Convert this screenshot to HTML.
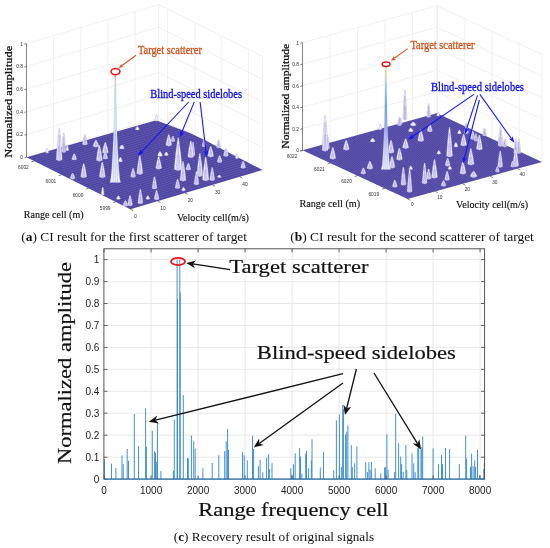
<!DOCTYPE html>
<html><head><meta charset="utf-8"><title>Figure</title>
<style>html,body{margin:0;padding:0;background:#fff}svg{display:block}</style>
</head><body>
<svg width="550" height="548" viewBox="0 0 550 548">
<defs>
<pattern id="fla" width="2.2" height="2.2" patternUnits="userSpaceOnUse" patternTransform="rotate(-16.7)"><rect width="2.2" height="2.2" fill="#4e46a0"/><rect width="2.2" height="0.5" fill="#665eb6"/></pattern>
<pattern id="flb" width="1.6" height="1.6" patternUnits="userSpaceOnUse" patternTransform="rotate(-40)"><rect width="1.6" height="1.6" fill="#4e46a0"/><rect width="1.6" height="0.45" fill="#6a62ba"/></pattern>
<linearGradient id="pk" x1="0" y1="0" x2="0" y2="1"><stop offset="0" stop-color="#f0a050"/><stop offset="0.07" stop-color="#f4d0a0"/><stop offset="0.14" stop-color="#c4e0f4"/><stop offset="0.5" stop-color="#d8e4f8"/><stop offset="1" stop-color="#f2f1fb"/></linearGradient>
<linearGradient id="pkb" x1="0" y1="0" x2="0" y2="1"><stop offset="0" stop-color="#f0e840"/><stop offset="0.09" stop-color="#d8e050"/><stop offset="0.16" stop-color="#70d0d8"/><stop offset="0.4" stop-color="#6aa8e8"/><stop offset="0.62" stop-color="#a8b8ec"/><stop offset="0.8" stop-color="#dcdcf6"/><stop offset="1" stop-color="#f2f0fb"/></linearGradient>
</defs>
<rect width="550" height="548" fill="#fff"/>

<path d="M26.5,157.2 L158.6,118.0 L262.5,170.0 M26.5,134.5 L158.6,95.3 L262.5,147.3 M26.5,111.8 L158.6,72.6 L262.5,124.6 M26.5,89.1 L158.6,49.9 L262.5,101.9 M26.5,66.4 L158.6,27.2 L262.5,79.2 M26.5,43.7 L158.6,4.5 L262.5,56.5 M53.6,149.2 V35.7 M80.7,141.1 V27.6 M107.8,133.1 V19.6 M134.9,125.0 V11.5 M167.5,122.5 V9.0 M194.9,136.1 V22.6 M221.2,149.3 V35.8 M248.5,163.0 V49.5 M158.6,118.0 V4.5 M262.5,170.0 V56.5" stroke="#ebebeb" stroke-width="0.7" fill="none"/>
<line x1="26.5" y1="157.2" x2="26.5" y2="43.7" stroke="#333" stroke-width="0.6"/>
<line x1="24.3" y1="157.8" x2="26.5" y2="157.2" stroke="#333" stroke-width="0.6"/>
<text x="23.1" y="159.1" font-size="4.9" font-family='"Liberation Sans", sans-serif' fill="#333" text-anchor="end" >0</text>
<line x1="24.3" y1="135.1" x2="26.5" y2="134.5" stroke="#333" stroke-width="0.6"/>
<text x="23.1" y="136.4" font-size="4.9" font-family='"Liberation Sans", sans-serif' fill="#333" text-anchor="end" >0.2</text>
<line x1="24.3" y1="112.4" x2="26.5" y2="111.8" stroke="#333" stroke-width="0.6"/>
<text x="23.1" y="113.7" font-size="4.9" font-family='"Liberation Sans", sans-serif' fill="#333" text-anchor="end" >0.4</text>
<line x1="24.3" y1="89.7" x2="26.5" y2="89.1" stroke="#333" stroke-width="0.6"/>
<text x="23.1" y="91.0" font-size="4.9" font-family='"Liberation Sans", sans-serif' fill="#333" text-anchor="end" >0.6</text>
<line x1="24.3" y1="67.0" x2="26.5" y2="66.4" stroke="#333" stroke-width="0.6"/>
<text x="23.1" y="68.3" font-size="4.9" font-family='"Liberation Sans", sans-serif' fill="#333" text-anchor="end" >0.8</text>
<line x1="24.3" y1="44.3" x2="26.5" y2="43.7" stroke="#333" stroke-width="0.6"/>
<text x="23.1" y="45.6" font-size="4.9" font-family='"Liberation Sans", sans-serif' fill="#333" text-anchor="end" >1</text>
<polygon points="26.5,157.2 130.4,209.2 262.5,170.0 205,140.3 190,132.9 156.2,120.2" fill="url(#fla)"/>
<line x1="34.1" y1="161.0" x2="31.2" y2="161.8" stroke="#333" stroke-width="0.6"/>
<text x="23.4" y="169.3" font-size="4.8" font-family='"Liberation Sans", sans-serif' fill="#333" text-anchor="middle" >6002</text>
<line x1="61.6" y1="174.8" x2="58.7" y2="175.6" stroke="#333" stroke-width="0.6"/>
<text x="50.9" y="183.1" font-size="4.8" font-family='"Liberation Sans", sans-serif' fill="#333" text-anchor="middle" >6001</text>
<line x1="88.7" y1="188.3" x2="85.9" y2="189.2" stroke="#333" stroke-width="0.6"/>
<text x="78.0" y="196.6" font-size="4.8" font-family='"Liberation Sans", sans-serif' fill="#333" text-anchor="middle" >6000</text>
<line x1="115.9" y1="201.9" x2="113.0" y2="202.8" stroke="#333" stroke-width="0.6"/>
<text x="105.2" y="210.2" font-size="4.8" font-family='"Liberation Sans", sans-serif' fill="#333" text-anchor="middle" >5999</text>
<line x1="130.4" y1="209.2" x2="133.1" y2="210.5" stroke="#333" stroke-width="0.6"/>
<text x="135.7" y="217.9" font-size="4.8" font-family='"Liberation Sans", sans-serif' fill="#333" text-anchor="middle" >0</text>
<line x1="157.7" y1="201.1" x2="160.4" y2="202.4" stroke="#333" stroke-width="0.6"/>
<text x="163.0" y="209.8" font-size="4.8" font-family='"Liberation Sans", sans-serif' fill="#333" text-anchor="middle" >10</text>
<line x1="185.0" y1="193.0" x2="187.7" y2="194.3" stroke="#333" stroke-width="0.6"/>
<text x="190.3" y="201.7" font-size="4.8" font-family='"Liberation Sans", sans-serif' fill="#333" text-anchor="middle" >20</text>
<line x1="212.3" y1="184.9" x2="215.0" y2="186.2" stroke="#333" stroke-width="0.6"/>
<text x="217.6" y="193.6" font-size="4.8" font-family='"Liberation Sans", sans-serif' fill="#333" text-anchor="middle" >30</text>
<line x1="239.6" y1="176.8" x2="242.3" y2="178.1" stroke="#333" stroke-width="0.6"/>
<text x="244.9" y="185.5" font-size="4.8" font-family='"Liberation Sans", sans-serif' fill="#333" text-anchor="middle" >40</text>
<path d="M155.1,120.6 Q155.5,117.6 156.2,114.6 L157.0,114.6 Q157.7,117.6 158.1,120.6 Q156.6,121.6 155.1,120.6 Z" fill="#f1effb" stroke="#a8a2de" stroke-width="0.4"/>
<path d="M135.3,129.4 Q135.9,127.9 136.9,126.4 L137.8,126.4 Q138.7,127.9 139.3,129.4 Q137.3,130.8 135.3,129.4 Z" fill="#f1effb" stroke="#a8a2de" stroke-width="0.4"/>
<path d="M171.0,141.0 Q171.6,138.5 172.6,136.0 L173.4,136.0 Q174.4,138.5 175.0,141.0 Q173.0,142.4 171.0,141.0 Z" fill="#f1effb" stroke="#a8a2de" stroke-width="0.4"/>
<path d="M172.00,141.4 L172.50,138.8 M172.66,141.4 L172.94,137.0 M173.34,141.4 L173.06,137.0 M174.00,141.4 L173.50,138.8" stroke="#8d87cf" stroke-width="0.35" fill="none"/>
<path d="M82.4,144.2 Q83.1,139.4 84.5,134.6 L85.4,134.6 Q86.7,139.4 87.4,144.2 Q84.9,145.9 82.4,144.2 Z" fill="#f1effb" stroke="#a8a2de" stroke-width="0.4"/>
<path d="M83.65,144.7 L84.28,139.9 M84.48,144.7 L84.82,136.5 M85.33,144.7 L84.98,136.5 M86.15,144.7 L85.52,139.9" stroke="#8d87cf" stroke-width="0.35" fill="none"/>
<path d="M165.8,145.1 Q166.6,139.8 168.4,134.6 L169.2,134.6 Q171.0,139.8 171.8,145.1 Q168.8,147.2 165.8,145.1 Z" fill="#f1effb" stroke="#a8a2de" stroke-width="0.4"/>
<path d="M167.30,145.7 L168.06,140.4 M168.29,145.7 L168.71,136.7 M169.31,145.7 L168.89,136.7 M170.30,145.7 L169.54,140.4" stroke="#8d87cf" stroke-width="0.35" fill="none"/>
<path d="M92.9,146.2 Q93.7,143.2 95.5,140.2 L96.4,140.2 Q98.1,143.2 98.9,146.2 Q95.9,148.3 92.9,146.2 Z" fill="#f1effb" stroke="#a8a2de" stroke-width="0.4"/>
<path d="M94.40,146.8 L95.16,143.5 M95.39,146.8 L95.81,141.4 M96.41,146.8 L95.99,141.4 M97.40,146.8 L96.64,143.5" stroke="#8d87cf" stroke-width="0.35" fill="none"/>
<path d="M202.0,146.2 Q202.6,142.7 203.6,139.2 L204.4,139.2 Q205.4,142.7 206.0,146.2 Q204.0,147.6 202.0,146.2 Z" fill="#f1effb" stroke="#a8a2de" stroke-width="0.4"/>
<path d="M203.00,146.6 L203.50,143.0 M203.66,146.6 L203.94,140.6 M204.34,146.6 L204.06,140.6 M205.00,146.6 L204.50,143.0" stroke="#8d87cf" stroke-width="0.35" fill="none"/>
<path d="M216.5,147.3 Q217.1,143.5 218.1,139.7 L218.9,139.7 Q219.9,143.5 220.5,147.3 Q218.5,148.7 216.5,147.3 Z" fill="#f1effb" stroke="#a8a2de" stroke-width="0.4"/>
<path d="M217.50,147.7 L218.00,143.9 M218.16,147.7 L218.44,141.2 M218.84,147.7 L218.56,141.2 M219.50,147.7 L219.00,143.9" stroke="#8d87cf" stroke-width="0.35" fill="none"/>
<path d="M120.4,148.2 Q121.0,146.7 122.0,145.2 L122.9,145.2 Q123.8,146.7 124.4,148.2 Q122.4,149.6 120.4,148.2 Z" fill="#f1effb" stroke="#a8a2de" stroke-width="0.4"/>
<path d="M119.5,148.3 Q120.1,146.8 121.0,145.3 L122.0,145.3 Q122.9,146.8 123.5,148.3 Q121.5,149.7 119.5,148.3 Z" fill="#f1effb" stroke="#a8a2de" stroke-width="0.4"/>
<path d="M65.7,150.2 Q66.1,147.7 66.8,145.2 L67.7,145.2 Q68.3,147.7 68.7,150.2 Q67.2,151.2 65.7,150.2 Z" fill="#f1effb" stroke="#a8a2de" stroke-width="0.4"/>
<path d="M61.8,151.8 Q62.4,142.5 63.3,133.1 L64.2,133.1 Q65.2,142.5 65.8,151.8 Q63.8,153.2 61.8,151.8 Z" fill="#f1effb" stroke="#a8a2de" stroke-width="0.4"/>
<path d="M62.80,152.2 L63.30,143.4 M63.46,152.2 L63.74,136.8 M64.14,152.2 L63.86,136.8 M64.80,152.2 L64.30,143.4" stroke="#8d87cf" stroke-width="0.35" fill="none"/>
<path d="M45.6,152.6 Q46.0,150.6 46.6,148.6 L47.6,148.6 Q48.2,150.6 48.6,152.6 Q47.1,153.7 45.6,152.6 Z" fill="#f1effb" stroke="#a8a2de" stroke-width="0.4"/>
<path d="M102.3,152.6 Q103.1,147.6 104.8,142.6 L105.8,142.6 Q107.5,147.6 108.3,152.6 Q105.3,154.7 102.3,152.6 Z" fill="#f1effb" stroke="#a8a2de" stroke-width="0.4"/>
<path d="M103.80,153.2 L104.56,148.1 M104.79,153.2 L105.21,144.6 M105.81,153.2 L105.39,144.6 M106.80,153.2 L106.04,148.1" stroke="#8d87cf" stroke-width="0.35" fill="none"/>
<path d="M164.3,155.0 Q164.9,153.5 165.9,152.0 L166.8,152.0 Q167.7,153.5 168.3,155.0 Q166.3,156.4 164.3,155.0 Z" fill="#f1effb" stroke="#a8a2de" stroke-width="0.4"/>
<path d="M191.0,155.0 Q191.6,148.5 192.6,142.0 L193.4,142.0 Q194.4,148.5 195.0,155.0 Q193.0,156.4 191.0,155.0 Z" fill="#f1effb" stroke="#a8a2de" stroke-width="0.4"/>
<path d="M192.00,155.4 L192.50,149.2 M192.66,155.4 L192.94,144.6 M193.34,155.4 L193.06,144.6 M194.00,155.4 L193.50,149.2" stroke="#8d87cf" stroke-width="0.35" fill="none"/>
<path d="M157.5,155.6 Q158.2,153.6 159.6,151.6 L160.4,151.6 Q161.8,153.6 162.5,155.6 Q160.0,157.3 157.5,155.6 Z" fill="#f1effb" stroke="#a8a2de" stroke-width="0.4"/>
<path d="M223.4,155.6 Q224.1,152.1 225.5,148.6 L226.3,148.6 Q227.7,152.1 228.4,155.6 Q225.9,157.3 223.4,155.6 Z" fill="#f1effb" stroke="#a8a2de" stroke-width="0.4"/>
<path d="M224.65,156.1 L225.28,152.4 M225.47,156.1 L225.82,150.0 M226.33,156.1 L225.98,150.0 M227.15,156.1 L226.52,152.4" stroke="#8d87cf" stroke-width="0.35" fill="none"/>
<path d="M207.7,156.1 Q208.5,151.3 210.2,146.6 L211.1,146.6 Q212.9,151.3 213.7,156.1 Q210.7,158.2 207.7,156.1 Z" fill="#f1effb" stroke="#a8a2de" stroke-width="0.4"/>
<path d="M209.20,156.7 L209.96,151.8 M210.19,156.7 L210.61,148.5 M211.21,156.7 L210.79,148.5 M212.20,156.7 L211.44,151.8" stroke="#8d87cf" stroke-width="0.35" fill="none"/>
<path d="M187.8,156.7 Q188.6,148.8 190.4,141.0 L191.2,141.0 Q193.0,148.8 193.8,156.7 Q190.8,158.8 187.8,156.7 Z" fill="#f1effb" stroke="#a8a2de" stroke-width="0.4"/>
<path d="M189.30,157.3 L190.06,149.6 M190.29,157.3 L190.71,144.1 M191.31,157.3 L190.89,144.1 M192.30,157.3 L191.54,149.6" stroke="#8d87cf" stroke-width="0.35" fill="none"/>
<path d="M235.4,158.1 Q235.8,155.8 236.5,153.5 L237.3,153.5 Q238.0,155.8 238.4,158.1 Q236.9,159.2 235.4,158.1 Z" fill="#f1effb" stroke="#a8a2de" stroke-width="0.4"/>
<path d="M102.8,158.2 Q103.5,155.2 104.8,152.2 L105.8,152.2 Q107.1,155.2 107.8,158.2 Q105.3,159.9 102.8,158.2 Z" fill="#f1effb" stroke="#a8a2de" stroke-width="0.4"/>
<path d="M104.05,158.7 L104.68,155.5 M104.88,158.7 L105.22,153.4 M105.72,158.7 L105.38,153.4 M106.55,158.7 L105.92,155.5" stroke="#8d87cf" stroke-width="0.35" fill="none"/>
<path d="M71.7,159.2 Q72.4,156.5 73.8,153.8 L74.7,153.8 Q76.0,156.5 76.7,159.2 Q74.2,160.9 71.7,159.2 Z" fill="#f1effb" stroke="#a8a2de" stroke-width="0.4"/>
<path d="M72.95,159.7 L73.58,156.8 M73.78,159.7 L74.12,154.9 M74.62,159.7 L74.28,154.9 M75.45,159.7 L74.82,156.8" stroke="#8d87cf" stroke-width="0.35" fill="none"/>
<path d="M56.2,159.8 Q57.0,144.3 58.8,128.8 L59.7,128.8 Q61.4,144.3 62.2,159.8 Q59.2,161.9 56.2,159.8 Z" fill="#f1effb" stroke="#a8a2de" stroke-width="0.4"/>
<path d="M57.70,160.4 L58.46,145.9 M58.69,160.4 L59.11,135.0 M59.71,160.4 L59.29,135.0 M60.70,160.4 L59.94,145.9" stroke="#8d87cf" stroke-width="0.35" fill="none"/>
<path d="M96.3,160.2 Q97.1,152.7 98.8,145.2 L99.8,145.2 Q101.5,152.7 102.3,160.2 Q99.3,162.3 96.3,160.2 Z" fill="#f1effb" stroke="#a8a2de" stroke-width="0.4"/>
<path d="M97.80,160.8 L98.56,153.4 M98.79,160.8 L99.21,148.2 M99.81,160.8 L99.39,148.2 M100.80,160.8 L100.04,153.4" stroke="#8d87cf" stroke-width="0.35" fill="none"/>
<path d="M118.4,161.2 Q119.0,159.2 120.0,157.2 L120.9,157.2 Q121.8,159.2 122.4,161.2 Q120.4,162.6 118.4,161.2 Z" fill="#f1effb" stroke="#a8a2de" stroke-width="0.4"/>
<path d="M217.1,161.7 Q217.8,158.7 219.2,155.7 L220.0,155.7 Q221.4,158.7 222.1,161.7 Q219.6,163.4 217.1,161.7 Z" fill="#f1effb" stroke="#a8a2de" stroke-width="0.4"/>
<path d="M218.35,162.2 L218.98,159.0 M219.17,162.2 L219.52,156.9 M220.03,162.2 L219.68,156.9 M220.85,162.2 L220.22,159.0" stroke="#8d87cf" stroke-width="0.35" fill="none"/>
<path d="M240.6,167.5 Q241.3,164.4 242.7,161.3 L243.5,161.3 Q244.9,164.4 245.6,167.5 Q243.1,169.2 240.6,167.5 Z" fill="#f1effb" stroke="#a8a2de" stroke-width="0.4"/>
<path d="M241.85,168.0 L242.48,164.7 M242.67,168.0 L243.02,162.5 M243.53,168.0 L243.18,162.5 M244.35,168.0 L243.72,164.7" stroke="#8d87cf" stroke-width="0.35" fill="none"/>
<path d="M155.7,168.2 Q156.5,162.4 158.2,156.7 L159.1,156.7 Q160.9,162.4 161.7,168.2 Q158.7,170.3 155.7,168.2 Z" fill="#f1effb" stroke="#a8a2de" stroke-width="0.4"/>
<path d="M157.20,168.8 L157.96,163.0 M158.19,168.8 L158.61,159.0 M159.21,168.8 L158.79,159.0 M160.20,168.8 L159.44,163.0" stroke="#8d87cf" stroke-width="0.35" fill="none"/>
<path d="M174.2,169.3 Q175.3,153.6 177.8,137.8 L178.6,137.8 Q181.1,153.6 182.2,169.3 Q178.2,171.7 174.2,169.3 Z" fill="#f1effb" stroke="#a8a2de" stroke-width="0.4"/>
<path d="M176.20,170.0 L177.21,155.1 M177.52,170.0 L178.08,144.1 M178.88,170.0 L178.32,144.1 M180.20,170.0 L179.19,155.1" stroke="#8d87cf" stroke-width="0.35" fill="none"/>
<path d="M185.8,169.3 Q186.5,166.3 187.9,163.3 L188.8,163.3 Q190.1,166.3 190.8,169.3 Q188.3,171.1 185.8,169.3 Z" fill="#f1effb" stroke="#a8a2de" stroke-width="0.4"/>
<path d="M187.05,169.8 L187.68,166.6 M187.88,169.8 L188.22,164.5 M188.73,169.8 L188.38,164.5 M189.55,169.8 L188.92,166.6" stroke="#8d87cf" stroke-width="0.35" fill="none"/>
<path d="M136.8,173.5 Q137.6,164.6 139.4,155.7 L140.2,155.7 Q142.0,164.6 142.8,173.5 Q139.8,175.6 136.8,173.5 Z" fill="#f1effb" stroke="#a8a2de" stroke-width="0.4"/>
<path d="M138.30,174.1 L139.06,165.5 M139.29,174.1 L139.71,159.3 M140.31,174.1 L139.89,159.3 M141.30,174.1 L140.54,165.5" stroke="#8d87cf" stroke-width="0.35" fill="none"/>
<path d="M196.8,175.6 Q197.6,164.6 199.4,153.6 L200.2,153.6 Q202.0,164.6 202.8,175.6 Q199.8,177.7 196.8,175.6 Z" fill="#f1effb" stroke="#a8a2de" stroke-width="0.4"/>
<path d="M198.30,176.2 L199.06,165.7 M199.29,176.2 L199.71,158.0 M200.31,176.2 L199.89,158.0 M201.30,176.2 L200.54,165.7" stroke="#8d87cf" stroke-width="0.35" fill="none"/>
<path d="M130.6,176.6 Q131.3,172.4 132.7,168.2 L133.5,168.2 Q134.9,172.4 135.6,176.6 Q133.1,178.3 130.6,176.6 Z" fill="#f1effb" stroke="#a8a2de" stroke-width="0.4"/>
<path d="M131.85,177.1 L132.48,172.8 M132.67,177.1 L133.02,169.9 M133.53,177.1 L133.18,169.9 M134.35,177.1 L133.72,172.8" stroke="#8d87cf" stroke-width="0.35" fill="none"/>
<path d="M80.7,176.7 Q81.5,170.2 83.2,163.8 L84.2,163.8 Q85.9,170.2 86.7,176.7 Q83.7,178.8 80.7,176.7 Z" fill="#f1effb" stroke="#a8a2de" stroke-width="0.4"/>
<path d="M82.20,177.3 L82.96,170.9 M83.19,177.3 L83.61,166.4 M84.21,177.3 L83.79,166.4 M85.20,177.3 L84.44,170.9" stroke="#8d87cf" stroke-width="0.35" fill="none"/>
<path d="M99.3,176.7 Q100.1,169.4 101.8,162.2 L102.8,162.2 Q104.5,169.4 105.3,176.7 Q102.3,178.8 99.3,176.7 Z" fill="#f1effb" stroke="#a8a2de" stroke-width="0.4"/>
<path d="M100.80,177.3 L101.56,170.2 M101.79,177.3 L102.21,165.1 M102.81,177.3 L102.39,165.1 M103.80,177.3 L103.04,170.2" stroke="#8d87cf" stroke-width="0.35" fill="none"/>
<path d="M217.3,177.0 Q217.9,176.0 218.9,175.0 L219.8,175.0 Q220.7,176.0 221.3,177.0 Q219.3,178.4 217.3,177.0 Z" fill="#f1effb" stroke="#a8a2de" stroke-width="0.4"/>
<path d="M70.1,178.3 Q70.8,175.8 72.1,173.3 L73.0,173.3 Q74.4,175.8 75.1,178.3 Q72.6,180.1 70.1,178.3 Z" fill="#f1effb" stroke="#a8a2de" stroke-width="0.4"/>
<path d="M71.35,178.8 L71.98,176.1 M72.17,178.8 L72.52,174.3 M73.02,178.8 L72.68,174.3 M73.85,178.8 L73.22,176.1" stroke="#8d87cf" stroke-width="0.35" fill="none"/>
<path d="M202.4,179.8 Q203.4,168.6 205.2,157.3 L206.1,157.3 Q208.0,168.6 208.9,179.8 Q205.7,182.1 202.4,179.8 Z" fill="#f1effb" stroke="#a8a2de" stroke-width="0.4"/>
<path d="M204.07,180.5 L204.90,169.7 M205.15,180.5 L205.60,161.8 M206.25,180.5 L205.80,161.8 M207.32,180.5 L206.50,169.7" stroke="#8d87cf" stroke-width="0.35" fill="none"/>
<path d="M209.7,179.8 Q210.4,173.6 211.8,167.4 L212.6,167.4 Q214.0,173.6 214.7,179.8 Q212.2,181.6 209.7,179.8 Z" fill="#f1effb" stroke="#a8a2de" stroke-width="0.4"/>
<path d="M210.95,180.3 L211.58,174.2 M211.77,180.3 L212.12,169.9 M212.62,180.3 L212.28,169.9 M213.45,180.3 L212.82,174.2" stroke="#8d87cf" stroke-width="0.35" fill="none"/>
<path d="M180.0,180.2 Q180.8,170.7 182.6,161.2 L183.4,161.2 Q185.2,170.7 186.0,180.2 Q183.0,182.3 180.0,180.2 Z" fill="#f1effb" stroke="#a8a2de" stroke-width="0.4"/>
<path d="M181.50,180.8 L182.26,171.6 M182.49,180.8 L182.91,165.0 M183.51,180.8 L183.09,165.0 M184.50,180.8 L183.74,171.6" stroke="#8d87cf" stroke-width="0.35" fill="none"/>
<path d="M194.0,184.0 Q194.7,177.7 196.1,171.4 L196.9,171.4 Q198.3,177.7 199.0,184.0 Q196.5,185.8 194.0,184.0 Z" fill="#f1effb" stroke="#a8a2de" stroke-width="0.4"/>
<path d="M195.25,184.5 L195.88,178.3 M196.07,184.5 L196.42,173.9 M196.93,184.5 L196.58,173.9 M197.75,184.5 L197.12,178.3" stroke="#8d87cf" stroke-width="0.35" fill="none"/>
<path d="M175.1,187.7 Q175.8,183.5 177.2,179.3 L178.0,179.3 Q179.4,183.5 180.1,187.7 Q177.6,189.4 175.1,187.7 Z" fill="#f1effb" stroke="#a8a2de" stroke-width="0.4"/>
<path d="M176.35,188.2 L176.98,183.9 M177.17,188.2 L177.52,181.0 M178.03,188.2 L177.68,181.0 M178.85,188.2 L178.22,183.9" stroke="#8d87cf" stroke-width="0.35" fill="none"/>
<path d="M152.0,188.2 Q152.7,182.4 154.1,176.7 L154.9,176.7 Q156.3,182.4 157.0,188.2 Q154.5,189.9 152.0,188.2 Z" fill="#f1effb" stroke="#a8a2de" stroke-width="0.4"/>
<path d="M153.25,188.7 L153.88,183.0 M154.07,188.7 L154.42,179.0 M154.93,188.7 L154.58,179.0 M155.75,188.7 L155.12,183.0" stroke="#8d87cf" stroke-width="0.35" fill="none"/>
<path d="M181.5,190.3 Q182.1,188.8 183.1,187.3 L183.9,187.3 Q184.9,188.8 185.5,190.3 Q183.5,191.7 181.5,190.3 Z" fill="#f1effb" stroke="#a8a2de" stroke-width="0.4"/>
<path d="M101.2,194.4 Q101.6,190.9 102.2,187.4 L103.2,187.4 Q103.8,190.9 104.2,194.4 Q102.7,195.5 101.2,194.4 Z" fill="#f1effb" stroke="#a8a2de" stroke-width="0.4"/>
<path d="M145.8,198.7 Q146.4,197.2 147.4,195.7 L148.2,195.7 Q149.2,197.2 149.8,198.7 Q147.8,200.1 145.8,198.7 Z" fill="#f1effb" stroke="#a8a2de" stroke-width="0.4"/>
<path d="M116.4,198.8 Q117.0,197.3 118.0,195.8 L118.9,195.8 Q119.8,197.3 120.4,198.8 Q118.4,200.2 116.4,198.8 Z" fill="#f1effb" stroke="#a8a2de" stroke-width="0.4"/>
<path d="M154.1,199.0 Q154.8,194.6 156.2,190.2 L157.0,190.2 Q158.4,194.6 159.1,199.0 Q156.6,200.8 154.1,199.0 Z" fill="#f1effb" stroke="#a8a2de" stroke-width="0.4"/>
<path d="M155.35,199.5 L155.98,195.0 M156.17,199.5 L156.52,192.0 M157.03,199.5 L156.68,192.0 M157.85,199.5 L157.22,195.0" stroke="#8d87cf" stroke-width="0.35" fill="none"/>
<path d="M137.9,202.9 Q138.6,196.1 140.0,189.3 L140.8,189.3 Q142.2,196.1 142.9,202.9 Q140.4,204.7 137.9,202.9 Z" fill="#f1effb" stroke="#a8a2de" stroke-width="0.4"/>
<path d="M139.15,203.4 L139.78,196.8 M139.97,203.4 L140.32,192.0 M140.83,203.4 L140.48,192.0 M141.65,203.4 L141.02,196.8" stroke="#8d87cf" stroke-width="0.35" fill="none"/>
<path d="M127.5,205.0 Q128.2,200.3 129.6,195.6 L130.4,195.6 Q131.8,200.3 132.5,205.0 Q130.0,206.8 127.5,205.0 Z" fill="#f1effb" stroke="#a8a2de" stroke-width="0.4"/>
<path d="M128.75,205.5 L129.38,200.8 M129.57,205.5 L129.92,197.5 M130.43,205.5 L130.08,197.5 M131.25,205.5 L130.62,200.8" stroke="#8d87cf" stroke-width="0.35" fill="none"/>
<path d="M122.9,205.4 Q123.6,202.9 125.0,200.4 L125.9,200.4 Q127.2,202.9 127.9,205.4 Q125.4,207.2 122.9,205.4 Z" fill="#f1effb" stroke="#a8a2de" stroke-width="0.4"/>
<path d="M124.15,205.9 L124.78,203.2 M124.98,205.9 L125.32,201.4 M125.83,205.9 L125.48,201.4 M126.65,205.9 L126.02,203.2" stroke="#8d87cf" stroke-width="0.35" fill="none"/>
<polygon points="114.8,75.0 114.7,85.8 114.4,101.9 113.8,128.8 112.8,150.2 111.7,169.6 110.8,178.2 110.0,182.5 120.5,182.5 119.8,178.2 118.9,169.6 117.8,150.2 116.8,128.8 116.2,101.9 115.9,85.8 115.8,75.0" fill="url(#pk)" stroke="#a3a8e0" stroke-width="0.25"/>
<path d="M113.0,182.5 L115.0,134.1 M117.6,182.5 L115.6,134.1 M115.3,182.5 V128.8" stroke="#9aa6e4" stroke-width="0.4" fill="none"/>
<ellipse cx="115.5" cy="71.6" rx="4.45" ry="3.05" fill="none" stroke="#f01018" stroke-width="1.5"/>
<line x1="136.0" y1="55.3" x2="121.7" y2="65.8" stroke="#d85a26" stroke-width="1.1"/>
<polygon points="118.7,68.0 121.5,63.4 121.7,65.8 123.9,66.7" fill="#d85a26"/>
<text x="137.9" y="53.6" font-size="11.7" font-family='"Liberation Serif", serif' fill="#d2521c" stroke="#d2521c" stroke-width="0.3" textLength="64.0" lengthAdjust="spacingAndGlyphs" >Target scatterer</text>
<text x="150.3" y="97.7" font-size="12.4" font-family='"Liberation Serif", serif' fill="#0808ff" stroke="#0808ff" stroke-width="0.3" textLength="91.7" lengthAdjust="spacingAndGlyphs" >Blind-speed sidelobes</text>
<line x1="188.7" y1="102.0" x2="141.3" y2="152.1" stroke="#1414ff" stroke-width="1.05"/>
<polygon points="137.9,155.6 140.7,149.3 141.3,152.1 144.0,152.5" fill="#1414ff"/>
<line x1="194.3" y1="101.9" x2="181.6" y2="132.8" stroke="#1414ff" stroke-width="1.05"/>
<polygon points="179.8,137.3 180.1,130.4 181.6,132.8 184.4,132.2" fill="#1414ff"/>
<line x1="200.1" y1="101.9" x2="206.1" y2="152.1" stroke="#1414ff" stroke-width="1.05"/>
<polygon points="206.7,156.9 203.6,150.7 206.1,152.1 208.2,150.2" fill="#1414ff"/>
<text x="11.7" y="157.7" font-size="10" font-family='"Liberation Serif", serif' fill="#111" stroke="#111" stroke-width="0.28" textLength="112.0" lengthAdjust="spacingAndGlyphs" transform="rotate(-90 11.7 157.7)" >Normalized amplitude</text>
<text x="23.7" y="218.2" font-size="11" font-family='"Liberation Serif", serif' fill="#111" stroke="#111" stroke-width="0.15" textLength="59.9" lengthAdjust="spacingAndGlyphs" >Range cell (m)</text>
<text x="176.9" y="220.5" font-size="11" font-family='"Liberation Serif", serif' fill="#111" stroke="#111" stroke-width="0.15" textLength="72.1" lengthAdjust="spacingAndGlyphs" >Velocity cell(m/s)</text>
<text x="21.3" y="240.6" font-size="11.6"font-family='"Liberation Serif", serif' fill="#111" textLength="225.7" lengthAdjust="spacingAndGlyphs">(<tspan font-weight="bold">a</tspan>) CI result for the first scatterer of target</text>
<path d="M302.5,150.2 L436.9,113.3 L542.0,162.0 M302.5,128.7 L436.9,91.8 L542.0,140.5 M302.5,107.2 L436.9,70.3 L542.0,119.0 M302.5,85.7 L436.9,48.8 L542.0,97.5 M302.5,64.2 L436.9,27.3 L542.0,76.0 M302.5,42.7 L436.9,5.8 L542.0,54.5 M330.0,142.7 V35.2 M357.5,135.1 V27.6 M385.0,127.6 V20.1 M412.4,120.0 V12.5 M437.4,113.5 V6.0 M464.8,126.2 V18.7 M491.9,138.8 V31.3 M519.2,151.4 V43.9 M436.9,113.3 V5.8 M542.0,162.0 V54.5" stroke="#ebebeb" stroke-width="0.7" fill="none"/>
<line x1="302.5" y1="150.2" x2="302.5" y2="42.7" stroke="#333" stroke-width="0.6"/>
<line x1="300.3" y1="150.8" x2="302.5" y2="150.2" stroke="#333" stroke-width="0.6"/>
<text x="299.1" y="152.1" font-size="4.9" font-family='"Liberation Sans", sans-serif' fill="#333" text-anchor="end" >0</text>
<line x1="300.3" y1="129.3" x2="302.5" y2="128.7" stroke="#333" stroke-width="0.6"/>
<text x="299.1" y="130.6" font-size="4.9" font-family='"Liberation Sans", sans-serif' fill="#333" text-anchor="end" >0.2</text>
<line x1="300.3" y1="107.8" x2="302.5" y2="107.2" stroke="#333" stroke-width="0.6"/>
<text x="299.1" y="109.1" font-size="4.9" font-family='"Liberation Sans", sans-serif' fill="#333" text-anchor="end" >0.4</text>
<line x1="300.3" y1="86.3" x2="302.5" y2="85.7" stroke="#333" stroke-width="0.6"/>
<text x="299.1" y="87.6" font-size="4.9" font-family='"Liberation Sans", sans-serif' fill="#333" text-anchor="end" >0.6</text>
<line x1="300.3" y1="64.8" x2="302.5" y2="64.2" stroke="#333" stroke-width="0.6"/>
<text x="299.1" y="66.1" font-size="4.9" font-family='"Liberation Sans", sans-serif' fill="#333" text-anchor="end" >0.8</text>
<line x1="300.3" y1="43.3" x2="302.5" y2="42.7" stroke="#333" stroke-width="0.6"/>
<text x="299.1" y="44.6" font-size="4.9" font-family='"Liberation Sans", sans-serif' fill="#333" text-anchor="end" >1</text>
<polygon points="302.5,150.2 407.6,198.9 542.0,162.0 436.9,113.3" fill="url(#flb)"/>
<line x1="303.0" y1="150.4" x2="300.1" y2="151.2" stroke="#333" stroke-width="0.6"/>
<text x="292.0" y="158.1" font-size="4.8" font-family='"Liberation Sans", sans-serif' fill="#333" text-anchor="middle" >6022</text>
<line x1="330.4" y1="163.1" x2="327.5" y2="163.9" stroke="#333" stroke-width="0.6"/>
<text x="319.4" y="170.8" font-size="4.8" font-family='"Liberation Sans", sans-serif' fill="#333" text-anchor="middle" >6021</text>
<line x1="357.5" y1="175.7" x2="354.6" y2="176.5" stroke="#333" stroke-width="0.6"/>
<text x="346.5" y="183.4" font-size="4.8" font-family='"Liberation Sans", sans-serif' fill="#333" text-anchor="middle" >6020</text>
<line x1="384.8" y1="188.3" x2="381.9" y2="189.1" stroke="#333" stroke-width="0.6"/>
<text x="373.8" y="196.0" font-size="4.8" font-family='"Liberation Sans", sans-serif' fill="#333" text-anchor="middle" >6019</text>
<line x1="407.6" y1="198.9" x2="410.3" y2="200.2" stroke="#333" stroke-width="0.6"/>
<text x="412.3" y="206.2" font-size="4.8" font-family='"Liberation Sans", sans-serif' fill="#333" text-anchor="middle" >0</text>
<line x1="435.1" y1="191.4" x2="437.8" y2="192.6" stroke="#333" stroke-width="0.6"/>
<text x="439.8" y="198.7" font-size="4.8" font-family='"Liberation Sans", sans-serif' fill="#333" text-anchor="middle" >10</text>
<line x1="462.6" y1="183.8" x2="465.3" y2="185.1" stroke="#333" stroke-width="0.6"/>
<text x="467.3" y="191.1" font-size="4.8" font-family='"Liberation Sans", sans-serif' fill="#333" text-anchor="middle" >20</text>
<line x1="490.1" y1="176.3" x2="492.8" y2="177.5" stroke="#333" stroke-width="0.6"/>
<text x="494.8" y="183.6" font-size="4.8" font-family='"Liberation Sans", sans-serif' fill="#333" text-anchor="middle" >30</text>
<line x1="517.5" y1="168.7" x2="520.3" y2="170.0" stroke="#333" stroke-width="0.6"/>
<text x="522.2" y="176.0" font-size="4.8" font-family='"Liberation Sans", sans-serif' fill="#333" text-anchor="middle" >40</text>
<path d="M436.6,115.6 Q437.0,114.1 437.7,112.6 L438.6,112.6 Q439.2,114.1 439.6,115.6 Q438.1,116.6 436.6,115.6 Z" fill="#f1effb" stroke="#a8a2de" stroke-width="0.4"/>
<path d="M426.6,116.7 Q427.2,110.2 428.2,103.7 L429.1,103.7 Q430.0,110.2 430.6,116.7 Q428.6,118.1 426.6,116.7 Z" fill="#f1effb" stroke="#a8a2de" stroke-width="0.4"/>
<path d="M427.60,117.1 L428.11,110.9 M428.26,117.1 L428.54,106.3 M428.94,117.1 L428.66,106.3 M429.60,117.1 L429.10,110.9" stroke="#8d87cf" stroke-width="0.35" fill="none"/>
<path d="M402.9,119.1 Q403.5,104.8 404.4,90.6 L405.3,90.6 Q406.3,104.8 406.9,119.1 Q404.9,120.5 402.9,119.1 Z" fill="#f1effb" stroke="#a8a2de" stroke-width="0.4"/>
<path d="M403.90,119.5 L404.40,106.3 M404.56,119.5 L404.84,96.3 M405.24,119.5 L404.96,96.3 M405.90,119.5 L405.39,106.3" stroke="#8d87cf" stroke-width="0.35" fill="none"/>
<path d="M398.2,123.9 Q398.8,120.9 399.8,117.9 L400.6,117.9 Q401.6,120.9 402.2,123.9 Q400.2,125.3 398.2,123.9 Z" fill="#f1effb" stroke="#a8a2de" stroke-width="0.4"/>
<path d="M399.20,124.3 L399.70,121.2 M399.86,124.3 L400.14,119.1 M400.54,124.3 L400.26,119.1 M401.20,124.3 L400.69,121.2" stroke="#8d87cf" stroke-width="0.35" fill="none"/>
<path d="M410.2,125.0 Q411.0,123.5 412.8,122.0 L413.6,122.0 Q415.4,123.5 416.2,125.0 Q413.2,127.1 410.2,125.0 Z" fill="#f1effb" stroke="#a8a2de" stroke-width="0.4"/>
<path d="M397.4,125.1 Q398.0,121.1 398.9,117.1 L399.8,117.1 Q400.8,121.1 401.4,125.1 Q399.4,126.5 397.4,125.1 Z" fill="#f1effb" stroke="#a8a2de" stroke-width="0.4"/>
<path d="M398.40,125.5 L398.90,121.5 M399.06,125.5 L399.34,118.7 M399.74,125.5 L399.46,118.7 M400.40,125.5 L399.89,121.5" stroke="#8d87cf" stroke-width="0.35" fill="none"/>
<path d="M378.8,129.2 Q379.2,126.7 379.9,124.2 L380.8,124.2 Q381.4,126.7 381.8,129.2 Q380.3,130.2 378.8,129.2 Z" fill="#f1effb" stroke="#a8a2de" stroke-width="0.4"/>
<path d="M408.3,131.0 Q409.0,129.5 410.4,128.0 L411.2,128.0 Q412.6,129.5 413.3,131.0 Q410.8,132.8 408.3,131.0 Z" fill="#f1effb" stroke="#a8a2de" stroke-width="0.4"/>
<path d="M427.3,131.0 Q428.0,127.5 429.4,124.0 L430.2,124.0 Q431.6,127.5 432.3,131.0 Q429.8,132.8 427.3,131.0 Z" fill="#f1effb" stroke="#a8a2de" stroke-width="0.4"/>
<path d="M428.55,131.5 L429.18,127.8 M429.38,131.5 L429.72,125.4 M430.23,131.5 L429.88,125.4 M431.05,131.5 L430.42,127.8" stroke="#8d87cf" stroke-width="0.35" fill="none"/>
<path d="M464.4,132.9 Q465.0,127.9 465.9,122.9 L466.8,122.9 Q467.8,127.9 468.4,132.9 Q466.4,134.3 464.4,132.9 Z" fill="#f1effb" stroke="#a8a2de" stroke-width="0.4"/>
<path d="M465.40,133.3 L465.90,128.4 M466.06,133.3 L466.34,124.9 M466.74,133.3 L466.46,124.9 M467.40,133.3 L466.89,128.4" stroke="#8d87cf" stroke-width="0.35" fill="none"/>
<path d="M457.4,133.3 Q458.0,131.8 458.9,130.3 L459.8,130.3 Q460.8,131.8 461.4,133.3 Q459.4,134.7 457.4,133.3 Z" fill="#f1effb" stroke="#a8a2de" stroke-width="0.4"/>
<path d="M482.5,135.2 Q483.1,131.7 484.1,128.2 L484.9,128.2 Q485.9,131.7 486.5,135.2 Q484.5,136.6 482.5,135.2 Z" fill="#f1effb" stroke="#a8a2de" stroke-width="0.4"/>
<path d="M483.50,135.6 L484.00,132.0 M484.16,135.6 L484.44,129.6 M484.84,135.6 L484.56,129.6 M485.50,135.6 L485.00,132.0" stroke="#8d87cf" stroke-width="0.35" fill="none"/>
<path d="M470.3,138.6 Q471.0,134.8 472.4,131.1 L473.2,131.1 Q474.6,134.8 475.3,138.6 Q472.8,140.3 470.3,138.6 Z" fill="#f1effb" stroke="#a8a2de" stroke-width="0.4"/>
<path d="M471.55,139.1 L472.18,135.2 M472.38,139.1 L472.72,132.6 M473.23,139.1 L472.88,132.6 M474.05,139.1 L473.42,135.2" stroke="#8d87cf" stroke-width="0.35" fill="none"/>
<path d="M417.8,140.5 Q418.6,135.2 420.4,129.8 L421.2,129.8 Q423.0,135.2 423.8,140.5 Q420.8,142.6 417.8,140.5 Z" fill="#f1effb" stroke="#a8a2de" stroke-width="0.4"/>
<path d="M419.30,141.1 L420.06,135.7 M420.29,141.1 L420.71,131.9 M421.31,141.1 L420.89,131.9 M422.30,141.1 L421.54,135.7" stroke="#8d87cf" stroke-width="0.35" fill="none"/>
<path d="M474.0,140.5 Q474.6,137.0 475.6,133.5 L476.4,133.5 Q477.4,137.0 478.0,140.5 Q476.0,141.9 474.0,140.5 Z" fill="#f1effb" stroke="#a8a2de" stroke-width="0.4"/>
<path d="M475.00,140.9 L475.50,137.3 M475.66,140.9 L475.94,134.9 M476.34,140.9 L476.06,134.9 M477.00,140.9 L476.50,137.3" stroke="#8d87cf" stroke-width="0.35" fill="none"/>
<path d="M370.2,141.2 Q370.9,139.7 372.2,138.2 L373.1,138.2 Q374.5,139.7 375.2,141.2 Q372.7,142.9 370.2,141.2 Z" fill="#f1effb" stroke="#a8a2de" stroke-width="0.4"/>
<path d="M460.6,145.0 Q461.4,139.6 463.2,134.2 L464.1,134.2 Q465.8,139.6 466.6,145.0 Q463.6,147.1 460.6,145.0 Z" fill="#f1effb" stroke="#a8a2de" stroke-width="0.4"/>
<path d="M462.10,145.6 L462.86,140.1 M463.09,145.6 L463.51,136.4 M464.11,145.6 L463.69,136.4 M465.10,145.6 L464.34,140.1" stroke="#8d87cf" stroke-width="0.35" fill="none"/>
<path d="M498.0,145.6 Q498.7,136.1 500.1,126.6 L500.9,126.6 Q502.3,136.1 503.0,145.6 Q500.5,147.3 498.0,145.6 Z" fill="#f1effb" stroke="#a8a2de" stroke-width="0.4"/>
<path d="M499.25,146.1 L499.88,137.0 M500.07,146.1 L500.42,130.4 M500.93,146.1 L500.58,130.4 M501.75,146.1 L501.12,137.0" stroke="#8d87cf" stroke-width="0.35" fill="none"/>
<path d="M453.9,146.4 Q454.5,144.4 455.4,142.4 L456.3,142.4 Q457.3,144.4 457.9,146.4 Q455.9,147.8 453.9,146.4 Z" fill="#f1effb" stroke="#a8a2de" stroke-width="0.4"/>
<path d="M502.7,146.5 Q503.3,142.8 504.2,139.2 L505.1,139.2 Q506.1,142.8 506.7,146.5 Q504.7,147.9 502.7,146.5 Z" fill="#f1effb" stroke="#a8a2de" stroke-width="0.4"/>
<path d="M503.70,146.9 L504.20,143.2 M504.36,146.9 L504.64,140.7 M505.04,146.9 L504.76,140.7 M505.70,146.9 L505.19,143.2" stroke="#8d87cf" stroke-width="0.35" fill="none"/>
<path d="M402.6,147.6 Q403.4,143.2 405.2,138.8 L406.1,138.8 Q407.8,143.2 408.6,147.6 Q405.6,149.7 402.6,147.6 Z" fill="#f1effb" stroke="#a8a2de" stroke-width="0.4"/>
<path d="M404.10,148.2 L404.86,143.6 M405.09,148.2 L405.51,140.6 M406.11,148.2 L405.69,140.6 M407.10,148.2 L406.34,143.6" stroke="#8d87cf" stroke-width="0.35" fill="none"/>
<path d="M325.5,148.2 Q326.1,141.7 327.1,135.2 L327.9,135.2 Q328.9,141.7 329.5,148.2 Q327.5,149.6 325.5,148.2 Z" fill="#f1effb" stroke="#a8a2de" stroke-width="0.4"/>
<path d="M326.50,148.6 L327.00,142.3 M327.16,148.6 L327.44,137.8 M327.84,148.6 L327.56,137.8 M328.50,148.6 L328.00,142.3" stroke="#8d87cf" stroke-width="0.35" fill="none"/>
<path d="M476.4,149.0 Q477.2,142.0 478.9,135.0 L479.8,135.0 Q481.6,142.0 482.4,149.0 Q479.4,151.1 476.4,149.0 Z" fill="#f1effb" stroke="#a8a2de" stroke-width="0.4"/>
<path d="M477.90,149.6 L478.66,142.7 M478.89,149.6 L479.31,137.8 M479.91,149.6 L479.49,137.8 M480.90,149.6 L480.14,142.7" stroke="#8d87cf" stroke-width="0.35" fill="none"/>
<path d="M343.2,149.2 Q344.0,144.7 345.8,140.2 L346.6,140.2 Q348.4,144.7 349.2,149.2 Q346.2,151.3 343.2,149.2 Z" fill="#f1effb" stroke="#a8a2de" stroke-width="0.4"/>
<path d="M344.70,149.8 L345.46,145.1 M345.69,149.8 L346.11,142.0 M346.71,149.8 L346.29,142.0 M347.70,149.8 L346.94,145.1" stroke="#8d87cf" stroke-width="0.35" fill="none"/>
<path d="M322.1,150.2 Q322.9,132.9 324.7,115.7 L325.6,115.7 Q327.3,132.9 328.1,150.2 Q325.1,152.3 322.1,150.2 Z" fill="#f1effb" stroke="#a8a2de" stroke-width="0.4"/>
<path d="M323.60,150.8 L324.36,134.7 M324.59,150.8 L325.01,122.6 M325.61,150.8 L325.19,122.6 M326.60,150.8 L325.84,134.7" stroke="#8d87cf" stroke-width="0.35" fill="none"/>
<path d="M388.0,152.2 Q388.8,146.2 390.6,140.2 L391.4,140.2 Q393.2,146.2 394.0,152.2 Q391.0,154.3 388.0,152.2 Z" fill="#f1effb" stroke="#a8a2de" stroke-width="0.4"/>
<path d="M389.50,152.8 L390.26,146.8 M390.49,152.8 L390.91,142.6 M391.51,152.8 L391.09,142.6 M392.50,152.8 L391.74,146.8" stroke="#8d87cf" stroke-width="0.35" fill="none"/>
<path d="M513.7,152.9 Q514.3,146.1 515.2,139.2 L516.2,139.2 Q517.1,146.1 517.7,152.9 Q515.7,154.3 513.7,152.9 Z" fill="#f1effb" stroke="#a8a2de" stroke-width="0.4"/>
<path d="M514.70,153.3 L515.21,146.7 M515.36,153.3 L515.64,141.9 M516.04,153.3 L515.76,141.9 M516.70,153.3 L516.20,146.7" stroke="#8d87cf" stroke-width="0.35" fill="none"/>
<path d="M516.8,152.9 Q517.4,146.1 518.3,139.2 L519.2,139.2 Q520.2,146.1 520.8,152.9 Q518.8,154.3 516.8,152.9 Z" fill="#f1effb" stroke="#a8a2de" stroke-width="0.4"/>
<path d="M517.80,153.3 L518.30,146.7 M518.46,153.3 L518.74,141.9 M519.14,153.3 L518.86,141.9 M519.80,153.3 L519.29,146.7" stroke="#8d87cf" stroke-width="0.35" fill="none"/>
<path d="M436.8,153.5 Q437.4,152.0 438.4,150.5 L439.2,150.5 Q440.2,152.0 440.8,153.5 Q438.8,154.9 436.8,153.5 Z" fill="#f1effb" stroke="#a8a2de" stroke-width="0.4"/>
<path d="M446.5,155.9 Q447.3,141.7 449.1,127.4 L449.9,127.4 Q451.7,141.7 452.5,155.9 Q449.5,158.0 446.5,155.9 Z" fill="#f1effb" stroke="#a8a2de" stroke-width="0.4"/>
<path d="M448.00,156.5 L448.76,143.1 M448.99,156.5 L449.41,133.1 M450.01,156.5 L449.59,133.1 M451.00,156.5 L450.24,143.1" stroke="#8d87cf" stroke-width="0.35" fill="none"/>
<path d="M329.8,158.3 Q330.6,152.8 332.4,147.3 L333.2,147.3 Q335.0,152.8 335.8,158.3 Q332.8,160.4 329.8,158.3 Z" fill="#f1effb" stroke="#a8a2de" stroke-width="0.4"/>
<path d="M331.30,158.9 L332.06,153.4 M332.29,158.9 L332.71,149.5 M333.31,158.9 L332.89,149.5 M334.30,158.9 L333.54,153.4" stroke="#8d87cf" stroke-width="0.35" fill="none"/>
<path d="M396.4,159.3 Q397.2,153.8 398.9,148.3 L399.8,148.3 Q401.6,153.8 402.4,159.3 Q399.4,161.4 396.4,159.3 Z" fill="#f1effb" stroke="#a8a2de" stroke-width="0.4"/>
<path d="M397.90,159.9 L398.66,154.4 M398.89,159.9 L399.31,150.5 M399.91,159.9 L399.49,150.5 M400.90,159.9 L400.14,154.4" stroke="#8d87cf" stroke-width="0.35" fill="none"/>
<path d="M467.6,164.0 Q468.5,156.2 470.4,148.5 L471.2,148.5 Q473.1,156.2 474.1,164.0 Q470.8,166.3 467.6,164.0 Z" fill="#f1effb" stroke="#a8a2de" stroke-width="0.4"/>
<path d="M469.18,164.7 L470.00,157.0 M470.25,164.7 L470.70,151.6 M471.35,164.7 L470.90,151.6 M472.43,164.7 L471.60,157.0" stroke="#8d87cf" stroke-width="0.35" fill="none"/>
<path d="M445.1,165.3 Q445.8,161.8 447.2,158.3 L448.1,158.3 Q449.4,161.8 450.1,165.3 Q447.6,167.1 445.1,165.3 Z" fill="#f1effb" stroke="#a8a2de" stroke-width="0.4"/>
<path d="M446.35,165.8 L446.98,162.2 M447.18,165.8 L447.52,159.7 M448.03,165.8 L447.68,159.7 M448.85,165.8 L448.22,162.2" stroke="#8d87cf" stroke-width="0.35" fill="none"/>
<path d="M512.7,165.7 Q513.5,157.5 515.2,149.3 L516.2,149.3 Q517.9,157.5 518.7,165.7 Q515.7,167.8 512.7,165.7 Z" fill="#f1effb" stroke="#a8a2de" stroke-width="0.4"/>
<path d="M514.20,166.3 L514.96,158.3 M515.19,166.3 L515.61,152.6 M516.21,166.3 L515.79,152.6 M517.20,166.3 L516.44,158.3" stroke="#8d87cf" stroke-width="0.35" fill="none"/>
<path d="M497.7,166.6 Q498.4,158.8 499.8,151.1 L500.6,151.1 Q502.0,158.8 502.7,166.6 Q500.2,168.3 497.7,166.6 Z" fill="#f1effb" stroke="#a8a2de" stroke-width="0.4"/>
<path d="M498.95,167.1 L499.58,159.6 M499.77,167.1 L500.12,154.2 M500.62,167.1 L500.28,154.2 M501.45,167.1 L500.82,159.6" stroke="#8d87cf" stroke-width="0.35" fill="none"/>
<path d="M510.6,166.6 Q511.2,163.8 512.1,161.1 L513.1,161.1 Q514.0,163.8 514.6,166.6 Q512.6,168.0 510.6,166.6 Z" fill="#f1effb" stroke="#a8a2de" stroke-width="0.4"/>
<path d="M511.60,167.0 L512.11,164.1 M512.26,167.0 L512.54,162.2 M512.94,167.0 L512.66,162.2 M513.60,167.0 L513.10,164.1" stroke="#8d87cf" stroke-width="0.35" fill="none"/>
<path d="M389.0,167.3 Q389.8,161.8 391.6,156.3 L392.4,156.3 Q394.2,161.8 395.0,167.3 Q392.0,169.4 389.0,167.3 Z" fill="#f1effb" stroke="#a8a2de" stroke-width="0.4"/>
<path d="M390.50,167.9 L391.26,162.4 M391.49,167.9 L391.91,158.5 M392.51,167.9 L392.09,158.5 M393.50,167.9 L392.74,162.4" stroke="#8d87cf" stroke-width="0.35" fill="none"/>
<path d="M366.9,168.3 Q367.7,164.8 369.4,161.3 L370.3,161.3 Q372.1,164.8 372.9,168.3 Q369.9,170.4 366.9,168.3 Z" fill="#f1effb" stroke="#a8a2de" stroke-width="0.4"/>
<path d="M368.40,168.9 L369.16,165.2 M369.39,168.9 L369.81,162.7 M370.41,168.9 L369.99,162.7 M371.40,168.9 L370.64,165.2" stroke="#8d87cf" stroke-width="0.35" fill="none"/>
<path d="M447.9,168.9 Q448.5,167.4 449.4,165.9 L450.3,165.9 Q451.3,167.4 451.9,168.9 Q449.9,170.3 447.9,168.9 Z" fill="#f1effb" stroke="#a8a2de" stroke-width="0.4"/>
<path d="M408.8,168.9 Q409.4,167.4 410.4,165.9 L411.2,165.9 Q412.2,167.4 412.8,168.9 Q410.8,170.3 408.8,168.9 Z" fill="#f1effb" stroke="#a8a2de" stroke-width="0.4"/>
<path d="M495.4,171.6 Q496.0,169.1 496.9,166.6 L497.8,166.6 Q498.8,169.1 499.4,171.6 Q497.4,173.0 495.4,171.6 Z" fill="#f1effb" stroke="#a8a2de" stroke-width="0.4"/>
<path d="M496.40,172.0 L496.90,169.3 M497.06,172.0 L497.34,167.6 M497.74,172.0 L497.46,167.6 M498.40,172.0 L497.89,169.3" stroke="#8d87cf" stroke-width="0.35" fill="none"/>
<path d="M360.8,173.3 Q361.5,170.6 362.9,167.9 L363.8,167.9 Q365.1,170.6 365.8,173.3 Q363.3,175.1 360.8,173.3 Z" fill="#f1effb" stroke="#a8a2de" stroke-width="0.4"/>
<path d="M362.05,173.8 L362.68,170.9 M362.88,173.8 L363.22,169.0 M363.73,173.8 L363.38,169.0 M364.55,173.8 L363.92,170.9" stroke="#8d87cf" stroke-width="0.35" fill="none"/>
<path d="M459.9,173.3 Q460.7,167.6 462.4,161.8 L463.3,161.8 Q465.1,167.6 465.9,173.3 Q462.9,175.4 459.9,173.3 Z" fill="#f1effb" stroke="#a8a2de" stroke-width="0.4"/>
<path d="M461.40,173.9 L462.16,168.1 M462.39,173.9 L462.81,164.1 M463.41,173.9 L462.99,164.1 M464.40,173.9 L463.64,168.1" stroke="#8d87cf" stroke-width="0.35" fill="none"/>
<path d="M470.1,176.2 Q471.1,173.7 473.2,171.2 L474.1,171.2 Q476.1,173.7 477.1,176.2 Q473.6,178.6 470.1,176.2 Z" fill="#f1effb" stroke="#a8a2de" stroke-width="0.4"/>
<path d="M471.85,176.9 L472.73,173.9 M473.00,176.9 L473.49,172.2 M474.20,176.9 L473.71,172.2 M475.35,176.9 L474.47,173.9" stroke="#8d87cf" stroke-width="0.35" fill="none"/>
<path d="M431.5,177.2 Q432.3,168.3 434.1,159.4 L434.9,159.4 Q436.7,168.3 437.5,177.2 Q434.5,179.3 431.5,177.2 Z" fill="#f1effb" stroke="#a8a2de" stroke-width="0.4"/>
<path d="M433.00,177.8 L433.76,169.2 M433.99,177.8 L434.41,163.0 M435.01,177.8 L434.59,163.0 M436.00,177.8 L435.24,169.2" stroke="#8d87cf" stroke-width="0.35" fill="none"/>
<path d="M426.1,178.4 Q426.8,173.7 428.2,168.9 L429.1,168.9 Q430.4,173.7 431.1,178.4 Q428.6,180.2 426.1,178.4 Z" fill="#f1effb" stroke="#a8a2de" stroke-width="0.4"/>
<path d="M427.35,178.9 L427.98,174.1 M428.18,178.9 L428.52,170.8 M429.03,178.9 L428.68,170.8 M429.85,178.9 L429.22,174.1" stroke="#8d87cf" stroke-width="0.35" fill="none"/>
<path d="M444.6,179.6 Q445.3,175.4 446.7,171.3 L447.6,171.3 Q448.9,175.4 449.6,179.6 Q447.1,181.3 444.6,179.6 Z" fill="#f1effb" stroke="#a8a2de" stroke-width="0.4"/>
<path d="M445.85,180.1 L446.48,175.9 M446.68,180.1 L447.02,173.0 M447.53,180.1 L447.18,173.0 M448.35,180.1 L447.72,175.9" stroke="#8d87cf" stroke-width="0.35" fill="none"/>
<path d="M422.1,183.1 Q422.8,173.1 424.2,163.1 L425.1,163.1 Q426.4,173.1 427.1,183.1 Q424.6,184.8 422.1,183.1 Z" fill="#f1effb" stroke="#a8a2de" stroke-width="0.4"/>
<path d="M423.35,183.6 L423.98,174.1 M424.18,183.6 L424.52,167.1 M425.03,183.6 L424.68,167.1 M425.85,183.6 L425.22,174.1" stroke="#8d87cf" stroke-width="0.35" fill="none"/>
<path d="M400.9,184.4 Q401.6,175.9 402.9,167.4 L403.8,167.4 Q405.2,175.9 405.9,184.4 Q403.4,186.2 400.9,184.4 Z" fill="#f1effb" stroke="#a8a2de" stroke-width="0.4"/>
<path d="M402.15,184.9 L402.78,176.8 M402.97,184.9 L403.32,170.8 M403.82,184.9 L403.48,170.8 M404.65,184.9 L404.02,176.8" stroke="#8d87cf" stroke-width="0.35" fill="none"/>
<path d="M441.0,185.5 Q441.7,183.0 443.1,180.5 L443.9,180.5 Q445.3,183.0 446.0,185.5 Q443.5,187.2 441.0,185.5 Z" fill="#f1effb" stroke="#a8a2de" stroke-width="0.4"/>
<path d="M442.25,186.0 L442.88,183.2 M443.07,186.0 L443.42,181.5 M443.93,186.0 L443.58,181.5 M444.75,186.0 L444.12,183.2" stroke="#8d87cf" stroke-width="0.35" fill="none"/>
<path d="M392.3,186.4 Q393.0,183.2 394.4,180.0 L395.2,180.0 Q396.6,183.2 397.3,186.4 Q394.8,188.2 392.3,186.4 Z" fill="#f1effb" stroke="#a8a2de" stroke-width="0.4"/>
<path d="M393.55,186.9 L394.18,183.5 M394.38,186.9 L394.72,181.3 M395.23,186.9 L394.88,181.3 M396.05,186.9 L395.42,183.5" stroke="#8d87cf" stroke-width="0.35" fill="none"/>
<path d="M407.1,191.4 Q407.8,180.2 409.2,168.9 L410.1,168.9 Q411.4,180.2 412.1,191.4 Q409.6,193.2 407.1,191.4 Z" fill="#f1effb" stroke="#a8a2de" stroke-width="0.4"/>
<path d="M408.35,191.9 L408.98,181.3 M409.18,191.9 L409.52,173.4 M410.03,191.9 L409.68,173.4 M410.85,191.9 L410.22,181.3" stroke="#8d87cf" stroke-width="0.35" fill="none"/>
<polygon points="385.4,67.5 385.4,77.7 385.1,93.0 384.6,118.5 383.8,138.9 382.8,157.3 382.1,165.4 381.1,169.5 390.6,169.5 389.7,165.4 389.0,157.3 388.0,138.9 387.2,118.5 386.7,93.0 386.4,77.7 386.4,67.5" fill="url(#pkb)" stroke="#a3a8e0" stroke-width="0.25"/>
<path d="M383.8,169.5 L385.6,123.6 M388.0,169.5 L386.2,123.6 M385.9,169.5 V118.5" stroke="#9aa6e4" stroke-width="0.4" fill="none"/>
<ellipse cx="386.1" cy="64.3" rx="3.9" ry="2.2" fill="none" stroke="#f01018" stroke-width="1.5"/>
<line x1="407.7" y1="48.6" x2="394.0" y2="58.5" stroke="#d85a26" stroke-width="1.1"/>
<polygon points="391.0,60.7 393.9,56.1 394.0,58.5 396.2,59.4" fill="#d85a26"/>
<text x="410.4" y="48.7" font-size="11.7" font-family='"Liberation Serif", serif' fill="#d2521c" stroke="#d2521c" stroke-width="0.3" textLength="64.1" lengthAdjust="spacingAndGlyphs" >Target scatterer</text>
<text x="430.9" y="91.0" font-size="12.4" font-family='"Liberation Serif", serif' fill="#0808ff" stroke="#0808ff" stroke-width="0.3" textLength="93.1" lengthAdjust="spacingAndGlyphs" >Blind-speed sidelobes</text>
<line x1="473.9" y1="94.4" x2="412.2" y2="136.8" stroke="#1414ff" stroke-width="1.05"/>
<polygon points="408.2,139.6 412.3,134.0 412.2,136.8 414.9,137.8" fill="#1414ff"/>
<line x1="477.5" y1="95.3" x2="466.4" y2="129.5" stroke="#1414ff" stroke-width="1.05"/>
<polygon points="464.9,134.1 464.7,127.2 466.4,129.5 469.1,128.6" fill="#1414ff"/>
<line x1="479.4" y1="100.0" x2="464.2" y2="158.8" stroke="#1414ff" stroke-width="1.05"/>
<polygon points="463.0,163.5 462.4,156.6 464.2,158.8 466.9,157.8" fill="#1414ff"/>
<line x1="479.9" y1="94.4" x2="511.6" y2="138.8" stroke="#1414ff" stroke-width="1.05"/>
<polygon points="514.4,142.8 508.8,138.8 511.6,138.8 512.5,136.2" fill="#1414ff"/>
<text x="289.0" y="148.8" font-size="10" font-family='"Liberation Serif", serif' fill="#111" stroke="#111" stroke-width="0.28" textLength="105.0" lengthAdjust="spacingAndGlyphs" transform="rotate(-90 289.0 148.8)" >Normalized amplitude</text>
<text x="299.4" y="206.8" font-size="11" font-family='"Liberation Serif", serif' fill="#111" stroke="#111" stroke-width="0.15" textLength="60.8" lengthAdjust="spacingAndGlyphs" >Range cell (m)</text>
<text x="456.0" y="208.3" font-size="11" font-family='"Liberation Serif", serif' fill="#111" stroke="#111" stroke-width="0.15" textLength="72.0" lengthAdjust="spacingAndGlyphs" >Velocity cell(m/s)</text>
<text x="290.2" y="240.6" font-size="11.6" font-family='"Liberation Serif", serif' fill="#111" textLength="243.7" lengthAdjust="spacingAndGlyphs">(<tspan font-weight="bold">b</tspan>) CI result for the second scatterer of target</text>
<path d="M151.1,248.8 V479.1 M198.1,248.8 V479.1 M245.1,248.8 V479.1 M292.1,248.8 V479.1 M339.1,248.8 V479.1 M386.1,248.8 V479.1 M433.1,248.8 V479.1 M480.1,248.8 V479.1 M103.9,457.2 H484.6 M103.9,435.2 H484.6 M103.9,413.2 H484.6 M103.9,391.3 H484.6 M103.9,369.4 H484.6 M103.9,347.4 H484.6 M103.9,325.5 H484.6 M103.9,303.5 H484.6 M103.9,281.6 H484.6 M103.9,259.6 H484.6" stroke="#e2e2e2" stroke-width="0.8" fill="none"/>
<path d="M104.4,479.1 V459.3 M111.5,479.1 V463.7 M115.9,479.1 V468.1 M122.0,479.1 V455.4 M123.2,479.1 V464.2 M127.2,479.1 V449.0 M128.5,479.1 V460.9 M134.3,479.1 V414.1 M138.5,479.1 V446.2 M145.6,479.1 V408.4 M146.4,479.1 V447.1 M152.3,479.1 V430.8 M154.6,479.1 V451.2 M155.5,479.1 V452.8 M156.7,479.1 V462.0 M157.5,479.1 V423.1 M160.9,479.1 V471.0 M173.4,479.1 V471.0 M174.3,479.1 V419.8 M177.1,479.1 V259.6 M177.5,479.1 V299.1 M179.8,479.1 V259.6 M180.2,479.1 V292.5 M183.3,479.1 V395.0 M187.5,479.1 V458.0 M188.3,479.1 V458.5 M191.4,479.1 V435.6 M193.7,479.1 V440.9 M195.2,479.1 V448.6 M202.9,479.1 V468.1 M212.2,479.1 V462.9 M218.8,479.1 V455.2 M224.7,479.1 V451.2 M226.2,479.1 V441.3 M227.6,479.1 V428.8 M228.5,479.1 V449.9 M242.5,479.1 V452.1 M244.2,479.1 V455.2 M247.3,479.1 V460.4 M252.5,479.1 V435.6 M253.6,479.1 V449.0 M258.4,479.1 V466.1 M260.1,479.1 V459.8 M262.8,479.1 V472.3 M266.6,479.1 V457.8 M268.6,479.1 V454.3 M269.3,479.1 V469.0 M272.0,479.1 V463.3 M290.8,479.1 V468.1 M292.0,479.1 V474.7 M293.5,479.1 V464.2 M295.2,479.1 V453.4 M299.6,479.1 V447.9 M300.5,479.1 V456.5 M301.9,479.1 V473.8 M305.7,479.1 V453.6 M306.5,479.1 V450.8 M308.6,479.1 V468.3 M311.3,479.1 V460.4 M312.0,479.1 V439.4 M320.3,479.1 V467.5 M323.5,479.1 V451.9 M333.7,479.1 V470.3 M336.4,479.1 V420.3 M339.4,479.1 V414.6 M341.3,479.1 V467.0 M342.7,479.1 V405.1 M343.4,479.1 V408.9 M345.6,479.1 V434.5 M346.7,479.1 V431.7 M347.9,479.1 V425.5 M351.3,479.1 V445.1 M352.3,479.1 V467.0 M354.6,479.1 V463.3 M356.9,479.1 V446.4 M365.7,479.1 V462.2 M367.4,479.1 V471.9 M368.9,479.1 V462.2 M370.1,479.1 V469.9 M371.4,479.1 V462.0 M375.2,479.1 V468.3 M380.8,479.1 V473.2 M384.6,479.1 V467.5 M385.6,479.1 V467.0 M386.9,479.1 V434.3 M388.1,479.1 V469.9 M394.6,479.1 V471.9 M395.7,479.1 V413.9 M398.6,479.1 V443.3 M400.7,479.1 V456.5 M401.5,479.1 V464.2 M403.2,479.1 V471.9 M405.9,479.1 V445.1 M406.8,479.1 V469.9 M412.0,479.1 V453.4 M413.7,479.1 V463.3 M415.1,479.1 V471.9 M417.8,479.1 V447.9 M418.7,479.1 V446.2 M421.0,479.1 V449.9 M421.8,479.1 V447.1 M422.7,479.1 V436.5 M433.1,479.1 V448.4 M438.5,479.1 V464.2 M441.5,479.1 V455.2 M442.5,479.1 V464.2 M445.5,479.1 V447.9 M449.6,479.1 V449.2 M459.3,479.1 V464.2 M465.7,479.1 V435.6 M466.6,479.1 V458.5 M470.5,479.1 V467.0 M471.6,479.1 V453.6 M473.1,479.1 V466.1 M474.7,479.1 V460.4 M475.6,479.1 V467.0 M477.5,479.1 V449.9 M479.7,479.1 V475.6 M483.9,479.1 V469.0 M484.3,479.1 V463.3" stroke="#2f86cc" stroke-width="0.9" fill="none"/>
<rect x="103.9" y="248.8" width="380.7" height="230.3" fill="none" stroke="#444" stroke-width="0.9"/>
<text x="104.1" y="493.8" font-size="10" font-family='"Liberation Sans", sans-serif' fill="#222" text-anchor="middle" >0</text>
<text x="151.1" y="493.8" font-size="10" font-family='"Liberation Sans", sans-serif' fill="#222" text-anchor="middle" >1000</text>
<text x="198.1" y="493.8" font-size="10" font-family='"Liberation Sans", sans-serif' fill="#222" text-anchor="middle" >2000</text>
<text x="245.1" y="493.8" font-size="10" font-family='"Liberation Sans", sans-serif' fill="#222" text-anchor="middle" >3000</text>
<text x="292.1" y="493.8" font-size="10" font-family='"Liberation Sans", sans-serif' fill="#222" text-anchor="middle" >4000</text>
<text x="339.1" y="493.8" font-size="10" font-family='"Liberation Sans", sans-serif' fill="#222" text-anchor="middle" >5000</text>
<text x="386.1" y="493.8" font-size="10" font-family='"Liberation Sans", sans-serif' fill="#222" text-anchor="middle" >6000</text>
<text x="433.1" y="493.8" font-size="10" font-family='"Liberation Sans", sans-serif' fill="#222" text-anchor="middle" >7000</text>
<text x="480.1" y="493.8" font-size="10" font-family='"Liberation Sans", sans-serif' fill="#222" text-anchor="middle" >8000</text>
<text x="99.3" y="482.7" font-size="10" font-family='"Liberation Sans", sans-serif' fill="#222" text-anchor="end" >0</text>
<text x="99.3" y="460.8" font-size="10" font-family='"Liberation Sans", sans-serif' fill="#222" text-anchor="end" >0.1</text>
<text x="99.3" y="438.8" font-size="10" font-family='"Liberation Sans", sans-serif' fill="#222" text-anchor="end" >0.2</text>
<text x="99.3" y="416.9" font-size="10" font-family='"Liberation Sans", sans-serif' fill="#222" text-anchor="end" >0.3</text>
<text x="99.3" y="394.9" font-size="10" font-family='"Liberation Sans", sans-serif' fill="#222" text-anchor="end" >0.4</text>
<text x="99.3" y="373.0" font-size="10" font-family='"Liberation Sans", sans-serif' fill="#222" text-anchor="end" >0.5</text>
<text x="99.3" y="351.0" font-size="10" font-family='"Liberation Sans", sans-serif' fill="#222" text-anchor="end" >0.6</text>
<text x="99.3" y="329.1" font-size="10" font-family='"Liberation Sans", sans-serif' fill="#222" text-anchor="end" >0.7</text>
<text x="99.3" y="307.1" font-size="10" font-family='"Liberation Sans", sans-serif' fill="#222" text-anchor="end" >0.8</text>
<text x="99.3" y="285.2" font-size="10" font-family='"Liberation Sans", sans-serif' fill="#222" text-anchor="end" >0.9</text>
<text x="99.3" y="263.2" font-size="10" font-family='"Liberation Sans", sans-serif' fill="#222" text-anchor="end" >1</text>
<path d="M104.1,479.1 v-3.6 M104.1,248.8 v3.6 M151.1,479.1 v-3.6 M151.1,248.8 v3.6 M198.1,479.1 v-3.6 M198.1,248.8 v3.6 M245.1,479.1 v-3.6 M245.1,248.8 v3.6 M292.1,479.1 v-3.6 M292.1,248.8 v3.6 M339.1,479.1 v-3.6 M339.1,248.8 v3.6 M386.1,479.1 v-3.6 M386.1,248.8 v3.6 M433.1,479.1 v-3.6 M433.1,248.8 v3.6 M480.1,479.1 v-3.6 M480.1,248.8 v3.6 M103.9,479.1 h3.6 M484.6,479.1 h-3.6 M103.9,457.2 h3.6 M484.6,457.2 h-3.6 M103.9,435.2 h3.6 M484.6,435.2 h-3.6 M103.9,413.2 h3.6 M484.6,413.2 h-3.6 M103.9,391.3 h3.6 M484.6,391.3 h-3.6 M103.9,369.4 h3.6 M484.6,369.4 h-3.6 M103.9,347.4 h3.6 M484.6,347.4 h-3.6 M103.9,325.5 h3.6 M484.6,325.5 h-3.6 M103.9,303.5 h3.6 M484.6,303.5 h-3.6 M103.9,281.6 h3.6 M484.6,281.6 h-3.6 M103.9,259.6 h3.6 M484.6,259.6 h-3.6" stroke="#444" stroke-width="0.8" fill="none"/>
<line x1="103.9" y1="479.1" x2="484.6" y2="479.1" stroke="#2f86cc" stroke-width="1"/>
<ellipse cx="178.05" cy="261.5" rx="7.0" ry="3.6" fill="none" stroke="#ee1018" stroke-width="1.8"/>
<line x1="230.0" y1="269.7" x2="192.8" y2="263.9" stroke="#111" stroke-width="1.3"/>
<polygon points="186.2,262.9 196.2,260.4 192.8,263.9 195.0,268.3" fill="#111"/>
<text x="229.2" y="273.4" font-size="19.2" font-family='"Liberation Serif", serif' fill="#111" stroke="#111" stroke-width="0.18" textLength="139.3" lengthAdjust="spacingAndGlyphs" >Target scatterer</text>
<text x="256.8" y="358.7" font-size="19.2" font-family='"Liberation Serif", serif' fill="#111" stroke="#111" stroke-width="0.18" textLength="199.1" lengthAdjust="spacingAndGlyphs" >Blind-speed sidelobes</text>
<line x1="343.0" y1="373.6" x2="155.4" y2="420.2" stroke="#111" stroke-width="1.3"/>
<polygon points="148.9,421.8 157.2,415.6 155.4,420.2 159.1,423.4" fill="#111"/>
<line x1="343.0" y1="383.0" x2="259.2" y2="443.5" stroke="#111" stroke-width="1.3"/>
<polygon points="253.8,447.4 259.2,438.6 259.2,443.5 263.8,445.1" fill="#111"/>
<line x1="356.4" y1="369.0" x2="346.6" y2="408.5" stroke="#111" stroke-width="1.3"/>
<polygon points="345.0,415.0 343.4,404.8 346.6,408.5 351.2,406.7" fill="#111"/>
<line x1="374.0" y1="373.0" x2="417.5" y2="443.7" stroke="#111" stroke-width="1.3"/>
<polygon points="421.0,449.4 412.6,443.4 417.5,443.7 419.4,439.2" fill="#111"/>
<text x="70.6" y="464.0" font-size="19.6" font-family='"Liberation Serif", serif' fill="#111" stroke="#111" stroke-width="0.18" textLength="202.0" lengthAdjust="spacingAndGlyphs" transform="rotate(-90 70.6 464.0)" >Normalized amplitude</text>
<text x="198.3" y="515.5" font-size="19.6" font-family='"Liberation Serif", serif' fill="#111" stroke="#111" stroke-width="0.18" textLength="190.3" lengthAdjust="spacingAndGlyphs" >Range frequency cell</text>
<text x="173.8" y="540.9" font-size="11.6" font-family='"Liberation Serif", serif' fill="#111" textLength="200.3" lengthAdjust="spacingAndGlyphs">(<tspan font-weight="bold">c</tspan>) Recovery result of original signals</text>
</svg></body></html>
